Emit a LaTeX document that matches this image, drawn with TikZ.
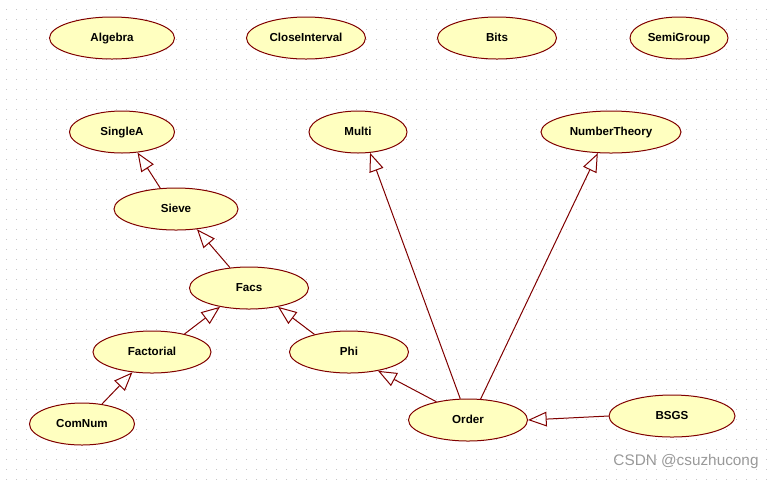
\documentclass[tikz,border=0pt]{standalone}
\usepackage{fontspec}
\newfontfamily\ucfont{Liberation Sans}
\usetikzlibrary{shapes.geometric,arrows.meta}
\definecolor{ucfill}{RGB}{255,255,192}
\definecolor{ucline}{RGB}{128,0,0}
\definecolor{dotgray}{RGB}{200,200,200}
\begin{document}
\begin{tikzpicture}[x=0.75pt,y=-0.75pt,
    uc/.style={ellipse,draw=ucline,line width=0.75pt,fill=ucfill,inner sep=0pt,
        minimum height=31.5pt,text height=6.4pt,text depth=1.6pt,
        font=\ucfont\bfseries\fontsize{8.7}{10}\selectfont},
    gen/.style={draw=ucline,line width=0.75pt,-{Triangle[open,length=14pt,width=11pt]}}]
    \fill[white] (0,0) rectangle (773,480);
    \useasboundingbox (0,0) rectangle (773,480);
    % dotted grid
    \foreach \y in {9,19,...,479}
        \draw[dotgray,line width=0.75pt,dash pattern=on 0.75pt off 6.75pt] (6,\y) -- (773,\y);
    % use cases
    \node[uc,minimum width=93.75pt] (algebra) at (112,38) {Algebra};
    \node[uc,minimum width=89.25pt] (closeint) at (306,38) {CloseInterval};
    \node[uc,minimum width=89.25pt] (bits) at (497,38) {Bits};
    \node[uc,minimum width=73.5pt] (semigroup) at (679,38) {SemiGroup};
    \node[uc,minimum width=78.75pt] (singlea) at (122,132) {SingleA};
    \node[uc,minimum width=73.5pt] (multi) at (358,132) {Multi};
    \node[uc,minimum width=105pt] (numth) at (611,132) {NumberTheory};
    \node[uc,minimum width=93pt] (sieve) at (176,209) {Sieve};
    \node[uc,minimum width=89.25pt] (facs) at (249,288) {Facs};
    \node[uc,minimum width=88.5pt] (factorial) at (152,352) {Factorial};
    \node[uc,minimum width=89.25pt] (phi) at (349,352) {Phi};
    \node[uc,minimum width=78.75pt] (comnum) at (82,424) {ComNum};
    \node[uc,minimum width=89.25pt] (order) at (468,420) {Order};
    \node[uc,minimum width=94.5pt] (bsgs) at (672,416) {BSGS};
    % generalizations
    \draw[gen] (sieve.127) -- (singlea.-53);
    \draw[gen] (facs.133) -- (sieve.-44);
    \draw[gen] (factorial.29) -- (facs.-147);
    \draw[gen] (phi.153) -- (facs.-33);
    \draw[gen] (comnum.45) -- (factorial.-134);
    \draw[gen] (order.110) -- (multi.-60);
    \draw[gen] (order.59) -- (numth.-122);
    \draw[gen] (order.150) -- (phi.-33);
    \draw[gen] (bsgs.west) -- (order.east);
    % watermark
    \node[text=gray!80,font=\ucfont\fontsize{11.5}{13}\selectfont] (mark) at (686,462) {CSDN @csuzhucong};
\end{tikzpicture}
\end{document}
